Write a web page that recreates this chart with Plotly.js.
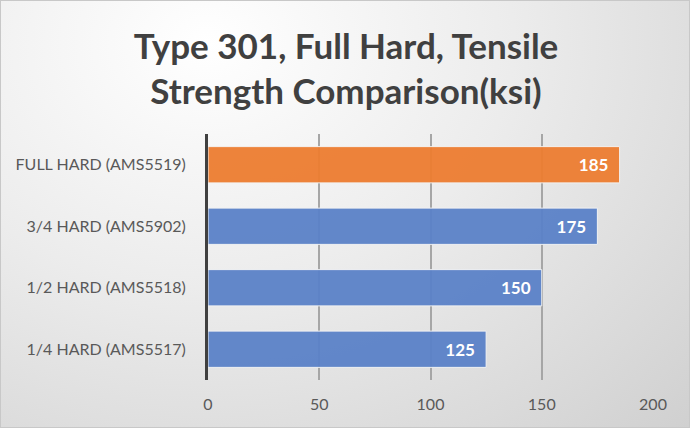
<!DOCTYPE html>
<html>
<head>
<meta charset="utf-8">
<script src="https://cdn.plot.ly/plotly-3.0.1.min.js"></script>
<style>
    html, body { margin: 0; padding: 0; }
    #chart {
        width: 690px;
        height: 428px;
        box-sizing: border-box;
        border: 1px solid #c8c8c8;
        background: radial-gradient(ellipse at 30% 10%, #ffffff 0%, #ececec 45%, #d0d0d0 100%);
    }
</style>
</head>
<body>
<div id="chart"></div>
<script>
// Categories, bottom to top as drawn
const grades = ["1/4 HARD (AMS5517)", "1/2 HARD (AMS5518)", "3/4 HARD (AMS5902)", "FULL HARD (AMS5519)"];
const tensileKsi = [125, 150, 175, 185];
const barColors = ["#5b82c8", "#5b82c8", "#5b82c8", "#ed7d31"];
const xTicks = [0, 50, 100, 150, 200];

const font = "Lato, 'Open Sans', sans-serif";

Plotly.newPlot("chart", [{
    type: "bar",
    orientation: "h",
    y: grades,
    x: tensileKsi,
    // trailing spaces push the label in from the bar end, like the original
    text: tensileKsi.map(v => v + "\u00a0\u00a0"),
    textposition: "inside",
    insidetextanchor: "end",
    textfont: { family: font, size: 17, color: "#ffffff", weight: "bold" },
    marker: { color: barColors, opacity: 0.95, line: { color: "#f4f4f4", width: 1 } },
    cliponaxis: false,
    hoverinfo: "skip",
}], {
    width: 690,
    height: 428,
    paper_bgcolor: "rgba(0,0,0,0)",
    plot_bgcolor: "rgba(0,0,0,0)",
    margin: { l: 207, r: 38, t: 133, b: 49 },
    bargap: 0.41,
    showlegend: false,
    title: {
        text: "Type 301, Full Hard, Tensile<br>Strength Comparison(ksi)",
        font: { family: font, size: 35, color: "#404040", weight: "bold" },
        x: 0.5,
        xanchor: "center",
        y: 0.865,
        yanchor: "top",
    },
    xaxis: {
        range: [0, 200],
        tickvals: xTicks,
        ticktext: xTicks.map(String),
        showgrid: true,
        gridcolor: "#a6a6a6",
        gridwidth: 1.5,
        zeroline: false,
        showline: false,
        ticks: "",
        ticklabelstandoff: 13,
        tickfont: { family: font, size: 16, color: "#595959" },
        fixedrange: true,
        layer: "above traces",
    },
    yaxis: {
        showgrid: false,
        showline: true,
        linecolor: "#404040",
        linewidth: 3,
        ticks: "",
        ticklabelstandoff: 16,
        tickfont: { family: font, size: 16, color: "#595959" },
        fixedrange: true,
    },
}, { displayModeBar: false });
</script>
</body>
</html>
